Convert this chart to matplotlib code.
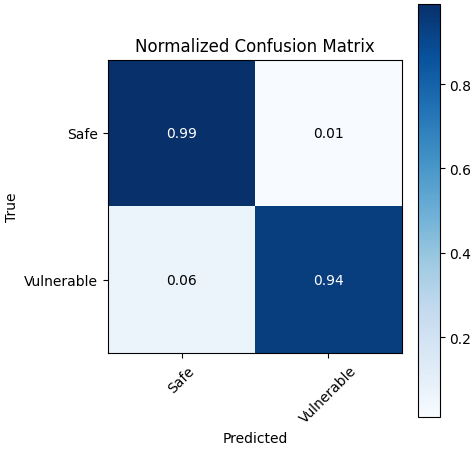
import numpy as np
import matplotlib
matplotlib.use("Agg")
import matplotlib.pyplot as plt

classes = ["Safe", "Vulnerable"]
cm = np.array([[0.99, 0.01],
               [0.06, 0.94]])

fig = plt.figure(figsize=(4.74, 4.52), dpi=100)
ax = fig.add_axes([0.228, 0.215, 0.62, 0.652])
cax = fig.add_axes([0.882, 0.075, 0.046, 0.914])

im = ax.imshow(cm, interpolation="nearest", cmap=plt.cm.Blues)
fig.colorbar(im, cax=cax)
ax.set_title("Normalized Confusion Matrix")
ticks = np.arange(len(classes))
ax.set_xticks(ticks)
ax.set_xticklabels(classes, rotation=45)
ax.set_yticks(ticks)
ax.set_yticklabels(classes)

thresh = cm.max() / 2.0
for i in range(cm.shape[0]):
    for j in range(cm.shape[1]):
        ax.text(j, i, f"{cm[i, j]:.2f}", ha="center", va="center",
                color="white" if cm[i, j] > thresh else "black")

ax.set_ylabel("True")
ax.set_xlabel("Predicted")
fig.savefig("out.png", dpi=100)
